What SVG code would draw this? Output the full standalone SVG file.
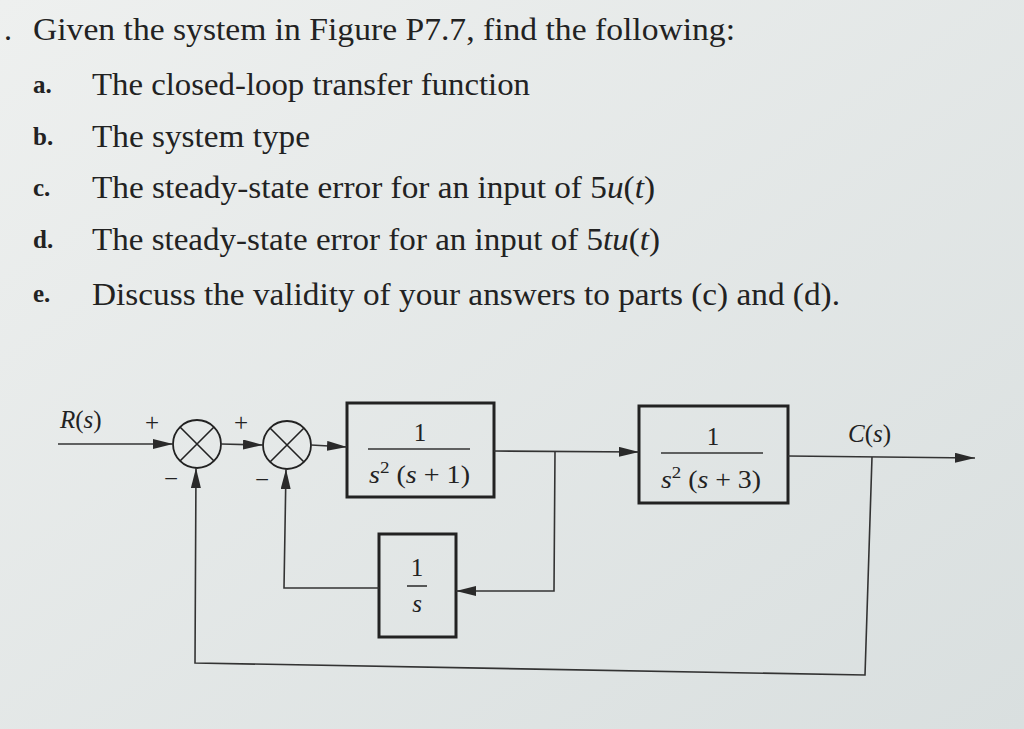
<svg xmlns="http://www.w3.org/2000/svg" width="1024" height="729" viewBox="0 0 1024 729">
<defs>
<linearGradient id="bg" x1="0" y1="0" x2="1" y2="1"><stop offset="0" stop-color="#eef0ef"/><stop offset="1" stop-color="#d9dfdf"/></linearGradient>
<marker id="ar2" viewBox="0 0 20 10" refX="20" refY="5" markerWidth="20" markerHeight="10" markerUnits="userSpaceOnUse" orient="auto"><path d="M0,0 L20,5 L0,10 Z" fill="#2a2a2a"/></marker>
</defs>
<style>
.t{font-family:"Liberation Serif",serif;font-size:32px;fill:#222}
.l{font-family:"Liberation Serif",serif;font-size:25px;font-weight:bold;fill:#222}
.m{font-family:"Liberation Serif",serif;font-size:25px;fill:#222}
.i{font-style:italic}
.box{fill:none;stroke:#222;stroke-width:3}
.ln{fill:none;stroke:#333;stroke-width:1.6}
.sum circle{fill:none;stroke:#222;stroke-width:1.8}
.sum path{stroke:#222;stroke-width:1.6}
</style>
<rect width="1024" height="729" fill="url(#bg)"/>
<g id="text">
<text class="t" x="4" y="40">.</text>
<text class="t" x="33" y="40" textLength="702" lengthAdjust="spacingAndGlyphs">Given the system in Figure P7.7, find the following:</text>
<text class="l" x="33" y="93">a.</text><text class="t" x="92" y="95" textLength="438" lengthAdjust="spacingAndGlyphs">The closed-loop transfer function</text>
<text class="l" x="33" y="145">b.</text><text class="t" x="92" y="147" textLength="218" lengthAdjust="spacingAndGlyphs">The system type</text>
<text class="l" x="33" y="196">c.</text><text class="t" x="92" y="198" textLength="563" lengthAdjust="spacingAndGlyphs">The steady-state error for an input of 5<tspan class="i">u</tspan>(<tspan class="i">t</tspan>)</text>
<text class="l" x="33" y="248">d.</text><text class="t" x="92" y="250" textLength="568" lengthAdjust="spacingAndGlyphs">The steady-state error for an input of 5<tspan class="i">tu</tspan>(<tspan class="i">t</tspan>)</text>
<text class="l" x="33" y="302">e.</text><text class="t" x="92" y="305" textLength="748" lengthAdjust="spacingAndGlyphs">Discuss the validity of your answers to parts (c) and (d).</text>
</g>
<g id="sum1" class="sum"><circle cx="197" cy="444" r="24"/><path d="M180,427 L214,461 M214,427 L180,461"/></g>
<g id="sum2" class="sum"><circle cx="287" cy="445" r="24"/><path d="M270,428 L304,462 M304,428 L270,462"/></g>
<g id="G1"><rect class="box" x="347" y="403" width="147" height="94"/><text class="m" x="420" y="441" text-anchor="middle">1</text><path class="ln" d="M368,449 L470,449"/><text class="m" x="369" y="483" textLength="101" lengthAdjust="spacingAndGlyphs"><tspan class="i">s</tspan><tspan dy="-10" font-size="17">2</tspan><tspan dy="10"> (</tspan><tspan class="i">s</tspan> + 1)</text></g>
<g id="G2"><rect class="box" x="639" y="406" width="149" height="97"/><text class="m" x="713" y="445" text-anchor="middle">1</text><path class="ln" d="M661,453 L763,453"/><text class="m" x="661" y="488" textLength="100" lengthAdjust="spacingAndGlyphs"><tspan class="i">s</tspan><tspan dy="-10" font-size="17">2</tspan><tspan dy="10"> (</tspan><tspan class="i">s</tspan> + 3)</text></g>
<g id="H"><rect class="box" x="379" y="534" width="77" height="103"/><text class="m" x="417" y="576" text-anchor="middle">1</text><path class="ln" d="M407,586 L427,586"/><text class="m i" x="417" y="612" text-anchor="middle">s</text></g>
<g id="labels">
<text class="m i" x="60" y="428">R<tspan font-style="normal">(</tspan>s<tspan font-style="normal">)</tspan></text>
<text class="m" x="145" y="431">+</text><text class="m" x="234" y="431">+</text>
<text class="m" x="164" y="487">−</text><text class="m" x="255" y="488">−</text>
<text class="m i" x="848" y="442">C<tspan font-style="normal">(</tspan>s<tspan font-style="normal">)</tspan></text>
</g>
<g id="connectors">
<path class="ln" d="M58,444 L173,444" marker-end="url(#ar2)"/>
<path class="ln" d="M221,444 L263,445" marker-end="url(#ar2)"/>
<path class="ln" d="M311,445 L347,447" marker-end="url(#ar2)"/>
<path class="ln" d="M494,451 L639,452" marker-end="url(#ar2)"/>
<path class="ln" d="M555,451 L554,591 L456,591" marker-end="url(#ar2)"/>
<path class="ln" d="M379,588 L284,588 L286,469" marker-end="url(#ar2)"/>
<path class="ln" d="M788,456 L975,458" marker-end="url(#ar2)"/>
<path class="ln" d="M872,457 L865,675 L195,663 L196,468" marker-end="url(#ar2)"/>
</g>
</svg>
